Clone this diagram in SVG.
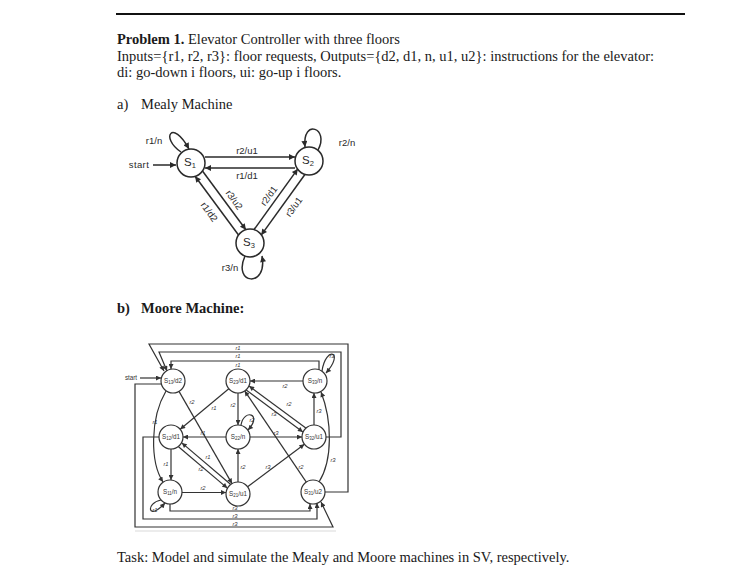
<svg xmlns="http://www.w3.org/2000/svg" width="737" height="586" viewBox="0 0 737 586">
<defs>
<marker id="a1" viewBox="0 0 10 10" refX="10" refY="5" markerWidth="8.5" markerHeight="6" markerUnits="userSpaceOnUse" orient="auto"><path d="M0,0L10,5L0,10z" fill="#2a2a2a"/></marker>
<marker id="a2" viewBox="0 0 10 10" refX="10" refY="5" markerWidth="6.5" markerHeight="5" markerUnits="userSpaceOnUse" orient="auto"><path d="M0,0L10,5L0,10z" fill="#333"/></marker>
</defs>
<style>
.t{font-family:"Liberation Serif","Times New Roman",serif;font-size:14.5px;fill:#1a1a1a}
.b{font-weight:bold}
.ml{font-family:"Liberation Sans",Arial,sans-serif;font-size:9.5px;fill:#2a2a2a;text-anchor:middle}
.e1{fill:none;stroke:#2a2a2a;stroke-width:1.5;marker-end:url(#a1)}
.n1{fill:#fff;stroke:#2a2a2a;stroke-width:1.5}
.sl{font-family:"Liberation Sans",Arial,sans-serif;font-size:11.5px;fill:#2a2a2a;text-anchor:middle}
.e2{fill:none;stroke:#333;stroke-width:1.2;marker-end:url(#a2)}
.n2{fill:#fff;stroke:#333;stroke-width:1.2}
.m2{font-family:"Liberation Sans",Arial,sans-serif;font-size:5.8px;fill:#333;font-style:italic;text-anchor:middle}
.s2{font-family:"Liberation Sans",Arial,sans-serif;font-size:6.3px;fill:#333;text-anchor:middle}
</style>
<rect width="737" height="586" fill="#fff"/>
<line x1="116" y1="14" x2="685" y2="14" stroke="#111" stroke-width="2"/>
<text class="t" x="117" y="44"><tspan class="b">Problem 1.</tspan> Elevator Controller with three floors</text>
<text class="t" x="117" y="61">Inputs={r1, r2, r3}: floor requests, Outputs={d2, d1, n, u1, u2}: instructions for the elevator:</text>
<text class="t" x="117" y="77">di: go-down i floors, ui: go-up i floors.</text>
<text class="t" x="117" y="109">a)</text><text class="t" x="141" y="109">Mealy Machine</text>
<text class="t b" x="117" y="313">b)</text><text class="t b" x="141" y="313">Moore Machine:</text>
<line x1="135" y1="531" x2="336" y2="531" stroke="#e6e6e6" stroke-width="1.5"/>
<text class="t" x="117" y="562">Task: Model and simulate the Mealy and Moore machines in SV, respectively.</text>

<g id="mealy-edges">
<path class="e1" d="M153,165 H176"/>
<text class="ml" x="139" y="168" font-size="10.5" letter-spacing="0.4">start</text>
<path class="e1" d="M181,152 C160,138 172,118 189,149"/>
<text class="ml" x="154" y="144">r1/n</text>
<path class="e1" d="M318,150 C330,128 302,118 305,147"/>
<text class="ml" x="347" y="146">r2/n</text>
<path class="e1" d="M245,256 C232,285 268,288 262,256"/>
<text class="ml" x="230" y="271">r3/n</text>
<path class="e1" d="M205,157 H295"/>
<text class="ml" x="247" y="154">r2/u1</text>
<path class="e1" d="M295,168 H205"/>
<text class="ml" x="247" y="179">r1/d1</text>
<path class="e1" d="M202.3,170.8 L245.9,229.8"/>
<text class="ml" transform="translate(234,200) rotate(54)" y="3">r3/u2</text>
<path class="e1" d="M238.7,235.2 L195.1,176.2"/>
<text class="ml" transform="translate(209,212) rotate(54)" y="3">r1/d2</text>
<path class="e1" d="M253.9,229.8 L297.8,168.9"/>
<text class="ml" transform="translate(269,196) rotate(-54)" y="3">r2/d1</text>
<path class="e1" d="M305.1,174.2 L261.2,235.1"/>
<text class="ml" transform="translate(294,207) rotate(-54)" y="3">r3/u1</text>
</g>
<g id="mealy-s1"><circle class="n1" cx="191" cy="163" r="14"/><text class="sl" x="190" y="166">S<tspan font-size="7.5" dy="2">1</tspan></text></g>
<g id="mealy-s2"><circle class="n1" cx="309" cy="161" r="14"/><text class="sl" x="308" y="164">S<tspan font-size="7.5" dy="2">2</tspan></text></g>
<g id="mealy-s3"><circle class="n1" cx="250" cy="243" r="14"/><text class="sl" x="249" y="246">S<tspan font-size="7.5" dy="2">3</tspan></text></g>

<g id="moore-edges">
<path class="e2" d="M140,378 H161"/>
<text class="s2" x="131" y="380">start</text>
<path class="e2" d="M325,492 H348 V344 H149 L164,371"/>
<text class="m2" x="238" y="350">r1</text>
<path class="e2" d="M326,437 H341 V352 H159 L167,371"/>
<text class="m2" x="238" y="358">r1</text>
<path class="e2" d="M319,370 V361 H171 V369"/>
<text class="m2" x="238" y="367">r1</text>
<path class="e2" d="M170,504 V511 H310 V504"/>
<text class="m2" x="235" y="509.5">r3</text>
<path class="e2" d="M159,437 H143 V519 H317 V503"/>
<text class="m2" x="235" y="517.5">r3</text>
<path class="e2" d="M161,384 H135 V527 H333 L321,502"/>
<text class="m2" x="235" y="525.5">r3</text>
<path class="e2" d="M166,391 C150,418 150,462 163,482"/>
<text class="m2" x="155" y="424">r1</text>
<path class="e2" d="M171,449 V480"/>
<text class="m2" x="166" y="466">r1</text>
<path class="e2" d="M161,500 C145,503 148,522 165,503"/>
<text class="m2" x="155" y="512">r1</text>
<path class="e2" d="M182,492.5 H226"/>
<text class="m2" x="203" y="490">r2</text>
<path class="e2" d="M179,391.4 L232,483.6"/>
<text class="m2" x="192" y="404">r2</text>
<path class="e2" d="M230.5,484.3 L181.8,442.9"/>
<text class="m2" x="208" y="459">r1</text>
<path class="e2" d="M178.5,446.7 L227.3,488.1"/>
<text class="m2" x="201" y="471">r2</text>
<path class="e2" d="M228.8,388.7 L180.2,429.3"/>
<text class="m2" x="214" y="410">r1</text>
<path class="e2" d="M238,393 V425"/>
<text class="m2" x="233" y="407">r2</text>
<path class="e2" d="M241,425 C244,408 263,414 248,430"/>
<text class="m2" x="252" y="422">r2</text>
<path class="e2" d="M238,482 V449"/>
<text class="m2" x="243" y="469">r2</text>
<path class="e2" d="M226,437 H183"/>
<text class="m2" x="203" y="435">r1</text>
<path class="e2" d="M250,437 H302"/>
<text class="m2" x="276" y="435">r3</text>
<path class="e2" d="M303,381 H250"/>
<text class="m2" x="285" y="388">r2</text>
<path class="e2" d="M305.8,427.9 L249.1,386.1"/>
<text class="m2" x="289" y="406">r2</text>
<path class="e2" d="M246.2,390.1 L302.9,431.9"/>
<text class="m2" x="274" y="416">r3</text>
<path class="e2" d="M306.3,482.1 L244.7,390.9"/>
<text class="m2" x="301" y="469">r2</text>
<path class="e2" d="M247.6,486.8 L304.4,444.2"/>
<text class="m2" x="268" y="469">r3</text>
<path class="e2" d="M314,425 V393"/>
<text class="m2" x="319" y="413">r3</text>
<path class="e2" d="M319,482 C333,460 332,420 321,392"/>
<text class="m2" x="333" y="462">r3</text>
<path class="e2" d="M322,371 C326,345 345,352 326,373"/>
<text class="m2" x="332" y="358">r3</text>
</g>
<g id="moore-s13"><circle class="n2" cx="173" cy="381" r="12"/><text class="s2" x="173" y="383">S<tspan font-size="4.5" dy="1">13</tspan><tspan dy="-1">/d2</tspan></text></g>
<g id="moore-s23"><circle class="n2" cx="238" cy="381" r="12"/><text class="s2" x="238" y="383">S<tspan font-size="4.5" dy="1">23</tspan><tspan dy="-1">/d1</tspan></text></g>
<g id="moore-s33"><circle class="n2" cx="315" cy="381" r="12"/><text class="s2" x="315" y="383">S<tspan font-size="4.5" dy="1">33</tspan><tspan dy="-1">/n</tspan></text></g>
<g id="moore-s12"><circle class="n2" cx="171" cy="437" r="12"/><text class="s2" x="171" y="439">S<tspan font-size="4.5" dy="1">12</tspan><tspan dy="-1">/d1</tspan></text></g>
<g id="moore-s22"><circle class="n2" cx="238" cy="437" r="12"/><text class="s2" x="238" y="439">S<tspan font-size="4.5" dy="1">22</tspan><tspan dy="-1">/n</tspan></text></g>
<g id="moore-s32"><circle class="n2" cx="314" cy="437" r="12"/><text class="s2" x="314" y="439">S<tspan font-size="4.5" dy="1">32</tspan><tspan dy="-1">/u1</tspan></text></g>
<g id="moore-s11"><circle class="n2" cx="170" cy="492" r="12"/><text class="s2" x="170" y="494">S<tspan font-size="4.5" dy="1">11</tspan><tspan dy="-1">/n</tspan></text></g>
<g id="moore-s21"><circle class="n2" cx="238" cy="494" r="12"/><text class="s2" x="238" y="496">S<tspan font-size="4.5" dy="1">21</tspan><tspan dy="-1">/u1</tspan></text></g>
<g id="moore-s31"><circle class="n2" cx="313" cy="492" r="12"/><text class="s2" x="313" y="494">S<tspan font-size="4.5" dy="1">31</tspan><tspan dy="-1">/u2</tspan></text></g>
</svg>
